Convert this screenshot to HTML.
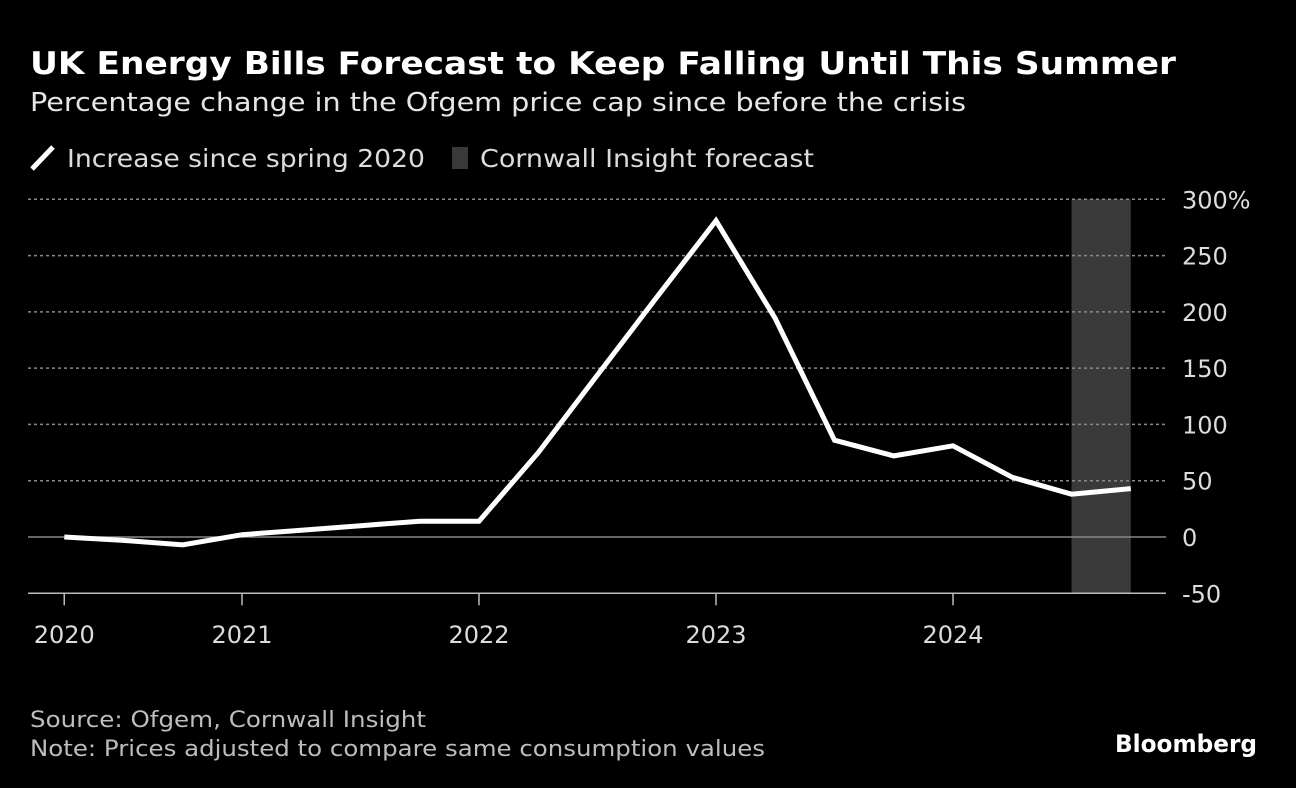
<!DOCTYPE html>
<html><head><meta charset="utf-8">
<style>
html,body{margin:0;padding:0;background:#000;}
svg{display:block;font-family:"DejaVu Sans","Liberation Sans",sans-serif;}
</style></head>
<body>
<svg id="chart" width="1296" height="788" viewBox="0 0 1296 788">
<rect x="0" y="0" width="1296" height="788" fill="#000"/>
<text x="30" y="74" fill="#fff" font-size="31" font-weight="bold" textLength="1146" lengthAdjust="spacingAndGlyphs">UK Energy Bills Forecast to Keep Falling Until This Summer</text>
<text x="30" y="111" fill="#e6e6e6" font-size="26" textLength="936" lengthAdjust="spacingAndGlyphs">Percentage change in the Ofgem price cap since before the crisis</text>
<g>
<line x1="32" y1="169" x2="53" y2="147" stroke="#fff" stroke-width="5"/>
<text x="67" y="167" fill="#dcdcdc" font-size="25" textLength="358" lengthAdjust="spacingAndGlyphs">Increase since spring 2020</text>
<rect x="452" y="147" width="16" height="22" fill="#3a3a3a"/>
<text x="480" y="167" fill="#dcdcdc" font-size="25" textLength="334" lengthAdjust="spacingAndGlyphs">Cornwall Insight forecast</text>
</g>
<g id="plot"></g>
<text x="30" y="727" fill="#bdbdbd" font-size="22" textLength="396" lengthAdjust="spacingAndGlyphs">Source: Ofgem, Cornwall Insight</text>
<text x="30" y="756" fill="#bdbdbd" font-size="22" textLength="735" lengthAdjust="spacingAndGlyphs">Note: Prices adjusted to compare same consumption values</text>
<text x="1257" y="752" fill="#fff" font-size="24" font-weight="bold" text-anchor="end" textLength="142" lengthAdjust="spacingAndGlyphs">Bloomberg</text>
</svg>
<script>
// quarter index relative to Jan 2021 (q=0)
const quarters = [-3,-2,-1,0,1,2,3,4,5,6,7,8,9,10,11,12,13,14,15];
const values = [0,-3,-7,2,6,10,14,14,75,144,213,281,194,86,72,81,53,38,43];
const yTicks = [300,250,200,150,100,50,0,-50];
const yTickLabels = ["300%","250","200","150","100","50","0","-50"];
const xTickQuarters = [-3,0,4,8,12];
const xTickLabels = ["2020","2021","2022","2023","2024"];
const forecastStart = 14, forecastEnd = 15;

const ns="http://www.w3.org/2000/svg";
const plot=document.getElementById('plot');
function xs(q){return 242+q*59.25;}
function ys(v){return 537-v*(394/350);}
function mk(tag,attrs){const e=document.createElementNS(ns,tag);for(const k in attrs)e.setAttribute(k,attrs[k]);plot.appendChild(e);return e;}

let band=mk('rect',{x:xs(forecastStart),y:ys(300),width:xs(forecastEnd)-xs(forecastStart),height:ys(-50)-ys(300),fill:'#3a3a3a'});



yTicks.forEach((v,i)=>{
  if(v!==0&&v!==-50){
    let g=mk('line',{x1:28,x2:1166,y1:ys(v),y2:ys(v),stroke:'#8a8a8a','stroke-width':1.5,'stroke-dasharray':'3,3'});
    
    
  }
  let t=mk('text',{x:1182,y:ys(v)+9,fill:'#dcdcdc','font-size':24});
  t.textContent=yTickLabels[i];
  
  
});
let zl=mk('line',{x1:28,x2:1166,y1:ys(0),y2:ys(0),stroke:'#888','stroke-width':1.5});


let ax=mk('line',{x1:28,x2:1166,y1:ys(-50),y2:ys(-50),stroke:'#bbb','stroke-width':1.5});


xTickQuarters.forEach((q,i)=>{
  let l=mk('line',{x1:xs(q),x2:xs(q),y1:ys(-50),y2:ys(-50)+12,stroke:'#bbb','stroke-width':1.5});
  
  
  let t=mk('text',{x:xs(q),y:643,fill:'#dcdcdc','font-size':24,'text-anchor':'middle'});
  t.textContent=xTickLabels[i];
  
  
});
let d=quarters.map((q,i)=>(i?'L':'M')+xs(q).toFixed(1)+','+ys(values[i]).toFixed(1)).join(' ');
let p=mk('path',{d:d,fill:'none',stroke:'#fff','stroke-width':5,'stroke-linejoin':'miter'});


</script>
</body></html>
